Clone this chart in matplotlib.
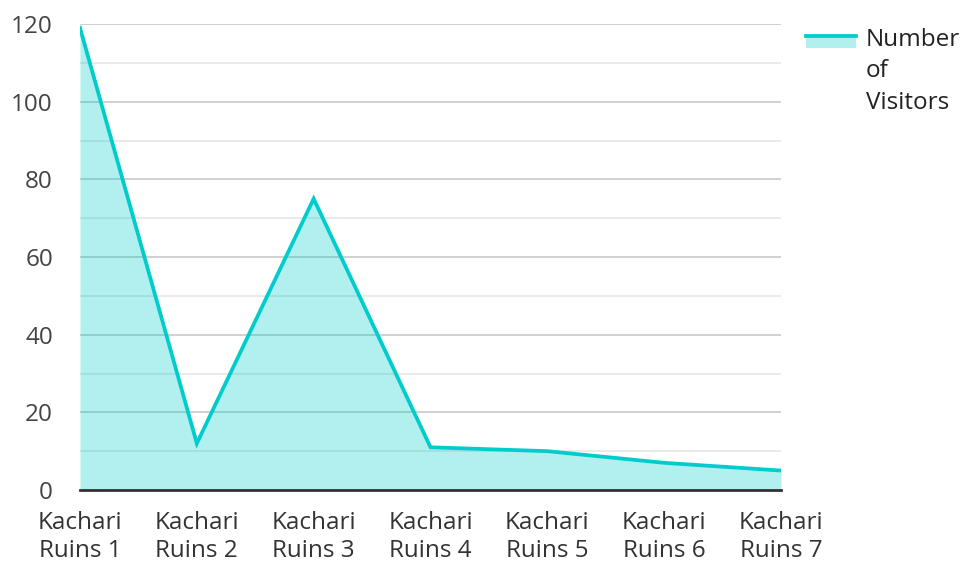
import matplotlib
matplotlib.use("Agg")
import matplotlib.pyplot as plt
from matplotlib.lines import Line2D
from matplotlib.patches import Rectangle
from matplotlib.ticker import MultipleLocator
from matplotlib.transforms import Affine2D

categories = ["Kachari\nRuins 1", "Kachari\nRuins 2", "Kachari\nRuins 3", "Kachari\nRuins 4",
              "Kachari\nRuins 5", "Kachari\nRuins 6", "Kachari\nRuins 7"]
visitors = [119, 12, 75, 11, 10, 7, 5]
series_name = "Number\nof\nVisitors"

line_color = "#00cccc"
fill_color = "#00cccc"

plt.rcParams['font.family'] = ['Open Sans', 'DejaVu Sans']

W, H = 963, 563
fig = plt.figure(figsize=(W/100, H/100), dpi=100)
ax = fig.add_axes([80/W, 1-490/H, (781-80)/W, (490-24)/H])

x = list(range(len(categories)))
ax.fill_between(x, visitors, 0, color=fill_color, alpha=0.3, linewidth=0, zorder=2)
ax.plot(x, visitors, color=line_color, linewidth=2.7, zorder=3, solid_joinstyle='miter')

ax.set_xlim(0, len(categories)-1)
ax.set_ylim(0, 120)
ax.yaxis.set_major_locator(MultipleLocator(20))
ax.yaxis.set_minor_locator(MultipleLocator(10))
ax.grid(which='major', axis='y', color='#c8c8c8', linewidth=1.2, zorder=1)
ax.grid(which='minor', axis='y', color='#e6e6e6', linewidth=1.2, zorder=1)
ax.set_axisbelow(True)
for s in ['top', 'right', 'left']:
    ax.spines[s].set_visible(False)
ax.spines['bottom'].set_color('#333333')
ax.spines['bottom'].set_linewidth(2)
ax.spines['bottom'].set_zorder(4)

ax.set_xticks(x)
ax.set_xticklabels(categories, fontsize=17.5, color='#333333', linespacing=1.25)
ax.tick_params(axis='x', length=0, pad=15)
ax.tick_params(axis='y', which='both', length=0, pad=19.5, labelsize=17.5, labelcolor='#444444')

# legend (drawn in figure pixel coordinates, origin top-left)
pix = Affine2D().scale(1/W, -1/H).translate(0, 1) + fig.transFigure
fig.add_artist(Rectangle((806, 36.5), 50, 11, facecolor=fill_color, alpha=0.3,
                         edgecolor='none', transform=pix))
fig.add_artist(Line2D([806, 856], [35.5, 35.5], color=line_color, linewidth=2.7, transform=pix))
fig.text(866/W, 1-109/H, series_name, fontsize=17.5, color='#222222', linespacing=1.42,
         ha='left', va='baseline')

fig.savefig("out.png", dpi=100)
